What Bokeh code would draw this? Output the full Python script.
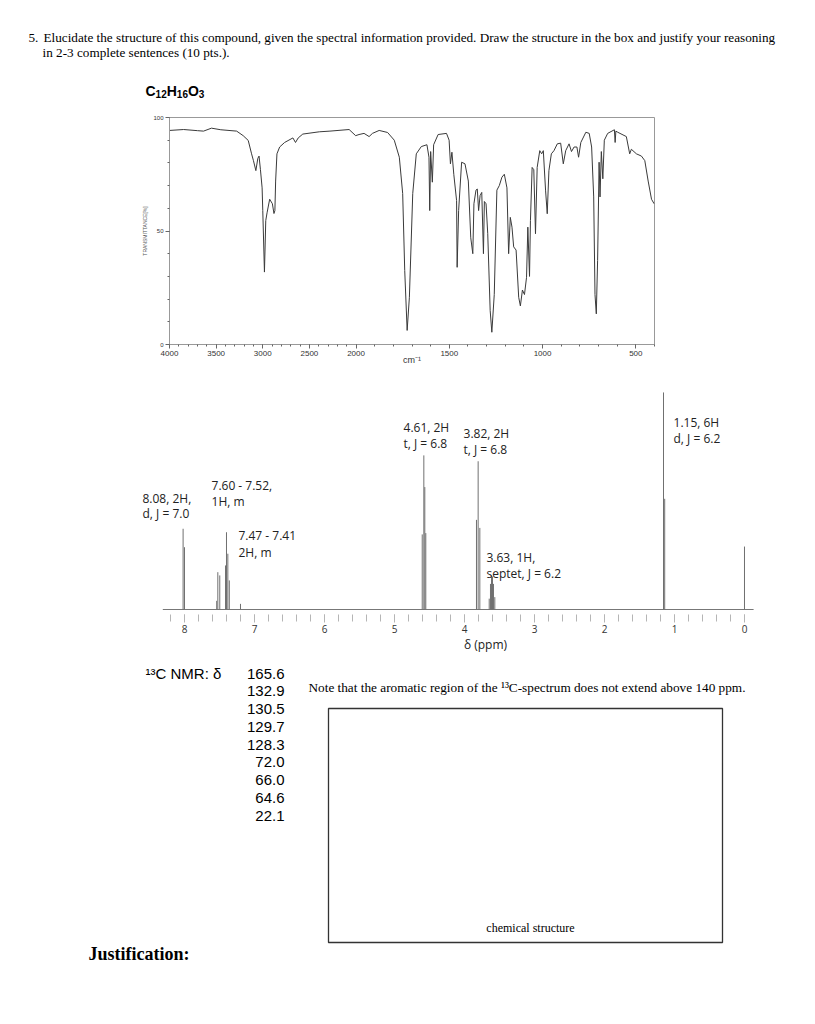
from bokeh.plotting import figure
from bokeh.layouts import column
from bokeh.models import Range1d, FixedTicker, CustomJSTransform, ColumnDataSource, LinearAxis
from bokeh.transform import transform
from bokeh.core.properties import value
from bokeh.embed import file_html
from bokeh.resources import INLINE

W = 815
SERIF = "Liberation Serif"
SANS = "Liberation Sans"
NMRFONT = "Open Sans"

# ---------------- texts ----------------
question_number = "5."
question_line1 = ("Elucidate the structure of this compound, given the spectral information provided.  "
                  "Draw the structure in the box and justify your reasoning")
question_line2 = "in 2-3 complete sentences  (10 pts.)."
formula_parts = ["C", "12", "H", "16", "O", "3"]
formula_is_sub = [False, True, False, True, False, True]

# ---------------- IR spectrum ----------------
ir_wavenumber = [4000, 3848, 3700, 3635, 3550, 3450, 3280, 3210, 3156, 3120, 3100, 3074, 3053, 3040,
                 3025, 3007, 3000, 2982, 2968, 2954, 2926, 2897, 2880, 2870, 2862, 2848, 2819, 2766,
                 2677, 2649, 2620, 2571, 2394, 2280, 2074, 2004, 1984, 1957, 1930, 1912, 1876, 1831,
                 1795, 1768, 1750, 1739, 1726, 1714, 1696, 1677, 1650, 1620, 1609, 1605, 1600, 1591,
                 1584, 1560, 1515, 1501, 1494, 1486, 1476, 1461, 1458, 1450, 1434, 1416, 1398, 1385,
                 1374, 1368, 1357, 1350, 1343, 1335, 1326, 1317, 1312, 1303, 1294, 1281, 1272, 1259,
                 1245, 1232, 1218, 1205, 1191, 1182, 1173, 1164, 1155, 1142, 1128, 1119, 1108, 1097,
                 1086, 1079, 1070, 1065, 1056, 1047, 1038, 1029, 1015, 1005, 996, 984, 975, 966,
                 953, 939, 921, 903, 889, 876, 858, 845, 831, 816, 807, 795, 768, 750, 737, 726,
                 719, 712, 705, 697, 692, 685, 677, 669, 651, 615, 611, 607, 597, 551, 533, 524,
                 497, 470, 452, 434, 416, 402]
ir_transmittance = [94.3, 94.7, 94.2, 94.0, 95.3, 94.6, 94.0, 92.0, 89.9, 84.0, 81.0, 76.6, 82.0, 83.0,
                    77.0, 69.0, 59.0, 31.9, 54.6, 58.0, 64.0, 62.0, 57.7, 59.0, 72.0, 84.0, 87.0, 89.0,
                    91.0, 89.0, 91.0, 92.7, 93.7, 94.0, 94.7, 92.0, 92.5, 93.0, 91.6, 93.0, 94.3, 93.4,
                    90.0, 82.5, 66.5, 32.6, 6.2, 20.8, 66.5, 84.0, 87.2, 88.0, 82.5, 59.0, 85.0, 71.5,
                    88.0, 92.5, 93.0, 90.0, 79.6, 84.7, 75.0, 63.4, 34.0, 59.0, 80.3, 79.6, 72.0, 47.0,
                    40.0, 62.0, 68.0, 68.5, 59.0, 65.6, 67.0, 40.0, 63.0, 62.0, 48.8, 15.0, 5.4, 22.0,
                    68.0, 70.0, 73.7, 75.0, 69.0, 40.0, 56.0, 51.7, 43.0, 41.6, 20.8, 17.0, 24.0, 22.0,
                    29.6, 51.7, 30.0, 54.6, 78.0, 77.0, 48.8, 78.0, 85.4, 84.0, 85.4, 68.0, 57.6, 76.6,
                    84.0, 85.4, 88.4, 88.7, 79.6, 85.4, 88.4, 85.0, 87.0, 87.0, 82.5, 89.0, 93.5, 93.0,
                    87.0, 65.0, 22.0, 13.5, 37.0, 80.3, 65.0, 85.0, 73.0, 90.0, 93.0, 94.6, 89.0, 94.0,
                    93.5, 91.6, 84.0, 86.0, 84.0, 83.0, 81.0, 72.0, 64.0, 62.0]
ir_x_ticks = [4000, 3500, 3000, 2500, 2000, 1500, 1000, 500]
ir_x_tick_labels = ["4000", "3500", "3000", "2500", "2000", "1500", "1000", "500"]
ir_y_ticks = [0, 50, 100]
ir_y_tick_labels = ["0", "50", "100"]
ir_x_label = "cm\u207b\u00b9"
ir_y_label = "TRANSMITTANCE[%]"

# ---------------- 1H NMR spectrum ----------------
nmr_shift = [8.02, 8.00, 7.54, 7.524, 7.496, 7.414, 7.40, 7.381, 7.36, 7.20,
             4.604, 4.581, 4.567, 4.553, 3.829, 3.805, 3.781,
             3.647, 3.629, 3.614, 3.600, 3.586, 3.567, 1.157, 1.140, 0.00]
nmr_intensity = [37.2, 28.7, 4.0, 17.2, 15.7, 20.3, 35.6, 25.7, 13.4, 2.6,
                 34.6, 71.0, 56.4, 35.2, 41.3, 68.3, 37.6,
                 5.0, 11.8, 15.7, 15.2, 11.8, 5.7, 100.0, 51.0, 29.0]
nmr_window = [8.31, -0.13]
nmr_ticks = [8, 7, 6, 5, 4, 3, 2, 1, 0]
nmr_tick_labels = ["8", "7", "6", "5", "4", "3", "2", "1", "0"]
nmr_x_label = "\u03b4 (ppm)"
nmr_x_label_at = 3.7
nmr_notes = ["8.08, 2H,", "d, J = 7.0", "7.60 - 7.52,", "1H, m", "7.47 - 7.41", "2H, m",
             "4.61, 2H", "t, J = 6.8", "3.82, 2H", "t, J = 6.8",
             "3.63, 1H,", "septet, J = 6.2", "1.15, 6H", "d, J = 6.2"]
nmr_note_x = [8.60, 8.60, 7.614, 7.614, 7.229, 7.229, 4.871, 4.871, 4.014, 4.014,
              3.686, 3.686, 1.014, 1.014]
nmr_note_y = [51.2, 44.2, 57.1, 49.8, 34.1, 26.3, 83.9, 76.5, 81.1, 73.7,
              24.0, 16.6, 86.2, 78.8]

# ---------------- 13C and bottom ----------------
c13_label = "\u00b9\u00b3C NMR:  \u03b4"
c13_shifts = ["165.6", "132.9", "130.5", "129.7", "128.3", "72.0", "66.0", "64.6", "22.1"]
note_text = "Note that the aromatic region of the \u00b9\u00b3C-spectrum does not extend above 140 ppm."
box_caption = "chemical structure"
justification_text = "Justification:"


def blank(height, y_top, y_bottom):
    p = figure(width=W, height=height, x_range=Range1d(0, W), y_range=Range1d(y_bottom, y_top),
               output_backend="svg", toolbar_location=None, frame_align=False,
               x_axis_location=None, y_axis_location=None,
               min_border_left=0, min_border_right=0, min_border_top=0, min_border_bottom=0)
    p.outline_line_color = None
    p.grid.visible = False
    return p


def put(p, x, y, txt, font, size, style="normal", align="left", color="black"):
    p.text(x=x, y=y, text=txt, text_font=value(font), text_font_size=size,
           text_font_style=style, text_align=align, text_baseline="middle", text_color=color)


# ---------------- header ----------------
hdr = blank(110, 0, 110)
put(hdr, [28], [37], [question_number], SERIF, "13.2px")
put(hdr, [43], [37], [question_line1], SERIF, "13.2px")
put(hdr, [42], [52], [question_line2], SERIF, "13.2px")

# chemical formula, main letters 14px bold, subscripts 10px bold set lower
MAIN_PX, SUB_PX = 14.0, 10.0
em = {"C": 0.722, "H": 0.722, "O": 0.778}
fx, fy = 145.0, 90.0
for part, sub in zip(formula_parts, formula_is_sub):
    if sub:
        put(hdr, [fx], [fy + 3.5], [part], SANS, f"{SUB_PX}px", style="bold")
        fx += 0.556 * SUB_PX * len(part)
    else:
        put(hdr, [fx], [fy], [part], SANS, f"{MAIN_PX}px", style="bold")
        fx += em[part] * MAIN_PX


# ---------------- IR ----------------
def ir_pos(w):
    return 4000 - w if w >= 2000 else 2000 + 2 * (2000 - w)


ir_map = CustomJSTransform(v_func="""
const out = new Array(xs.length);
for (let i = 0; i < xs.length; i++) {
  const w = xs[i];
  out[i] = w >= 2000 ? 4000 - w : 2000 + 2 * (2000 - w);
}
return out;
""")

ir = figure(frame_width=485, frame_height=227,
            x_range=Range1d(ir_pos(4000), ir_pos(400)), y_range=Range1d(0, 100),
            output_backend="svg", toolbar_location=None, frame_align=False,
            min_border_left=169, min_border_right=161, min_border_top=7, min_border_bottom=36)
ir.grid.visible = False
ir.outline_line_color = "#999999"
ir_src = ColumnDataSource(dict(wn=ir_wavenumber, t=ir_transmittance))
ir.line(x=transform("wn", ir_map), y="t", source=ir_src, line_color="#3a3a3a", line_width=1)

xa = ir.xaxis[0]
xa.ticker = FixedTicker(ticks=[ir_pos(w) for w in ir_x_ticks],
                        minor_ticks=[ir_pos(w) for w in range(4000, 399, -100)])
xa.major_label_overrides = {ir_pos(w): lab for w, lab in zip(ir_x_ticks, ir_x_tick_labels)}
xa.axis_line_color = "#999999"
xa.major_tick_line_color = "#666666"
xa.minor_tick_line_color = "#666666"
xa.major_tick_in = 0
xa.major_tick_out = 4
xa.minor_tick_in = 0
xa.minor_tick_out = 2
xa.major_label_standoff = 2
xa.major_label_text_font = SANS
xa.major_label_text_font_size = "8px"
xa.major_label_text_color = "#333333"
xa.axis_label = ir_x_label
xa.axis_label_text_font = SANS
xa.axis_label_text_font_size = "9px"
xa.axis_label_text_font_style = "normal"
xa.axis_label_text_color = "#333333"
xa.axis_label_standoff = -4

ya = ir.yaxis[0]
ya.ticker = FixedTicker(ticks=ir_y_ticks, minor_ticks=list(range(0, 101, 10)))
ya.major_label_overrides = {v: lab for v, lab in zip(ir_y_ticks, ir_y_tick_labels)}
ya.axis_line_color = "#999999"
ya.major_tick_line_color = "#666666"
ya.minor_tick_line_color = "#666666"
ya.major_tick_in = 0
ya.major_tick_out = 4
ya.minor_tick_in = 0
ya.minor_tick_out = 2
ya.major_label_standoff = 2
ya.major_label_text_font = SANS
ya.major_label_text_font_size = "6px"
ya.major_label_text_color = "#333333"
ya.axis_label = ir_y_label
ya.axis_label_text_font = SANS
ya.axis_label_text_font_size = "5px"
ya.axis_label_text_font_style = "normal"
ya.axis_label_text_color = "#555555"
ya.axis_label_standoff = 2

# ---------------- 1H NMR ----------------
nmr = figure(frame_width=625, frame_height=229,
             x_range=Range1d(8.7, -0.2286), y_range=Range1d(-2.3, 103.2),
             output_backend="svg", toolbar_location=None, y_axis_location=None, frame_align=False,
             min_border_left=135, min_border_right=55, min_border_top=5, min_border_bottom=38)
nmr.grid.visible = False
nmr.outline_line_color = None
nmr.line(x=nmr_window, y=[0, 0], line_color="#777777", line_width=1)
nmr.segment(x0=nmr_shift, y0=[0] * len(nmr_shift), x1=nmr_shift, y1=nmr_intensity,
            line_color="#707070", line_width=1)
put(nmr, nmr_note_x, nmr_note_y, nmr_notes, NMRFONT, "12px", color="#222222")

na = nmr.xaxis[0]
na.ticker = FixedTicker(ticks=nmr_ticks, minor_ticks=[round(0.2 * i, 1) for i in range(0, 42)])
na.major_label_overrides = {v: lab for v, lab in zip(nmr_ticks, nmr_tick_labels)}
na.axis_line_color = None
na.major_tick_line_color = "#b5b5b5"
na.minor_tick_line_color = "#b5b5b5"
na.major_tick_in = 0
na.major_tick_out = 8
na.minor_tick_in = 0
na.minor_tick_out = 7
na.major_label_standoff = 2
na.major_label_text_font = NMRFONT
na.major_label_text_font_size = "10px"
na.major_label_text_color = "#333333"

na2 = LinearAxis(ticker=FixedTicker(ticks=[nmr_x_label_at], minor_ticks=[]),
                 major_label_overrides={nmr_x_label_at: nmr_x_label})
na2.axis_line_color = None
na2.major_tick_line_color = None
na2.minor_tick_line_color = None
na2.major_tick_in = 0
na2.major_tick_out = 0
na2.major_label_standoff = 0
na2.major_label_text_font = NMRFONT
na2.major_label_text_font_size = "12px"
na2.major_label_text_color = "#222222"
nmr.add_layout(na2, "below")

# ---------------- bottom ----------------
bot = blank(368, 652, 1020)
put(bot, [145], [670], [c13_label], SANS, "15px")
put(bot, [284] * len(c13_shifts), [670 + 17.75 * i for i in range(len(c13_shifts))], c13_shifts,
    SANS, "15px", align="right")
put(bot, [308], [684], [note_text], SERIF, "13.25px")
bot.quad(left=[328], right=[722], top=[705], bottom=[939], fill_color=None,
         line_color="#333333", line_width=1.3)
put(bot, [530], [924], [box_caption], SERIF, "12px", align="center")
put(bot, [88], [950], [justification_text], SERIF, "18px", style="bold")

page = column(hdr, ir, nmr, bot)
open("out.html", "w").write(file_html(page, INLINE))
